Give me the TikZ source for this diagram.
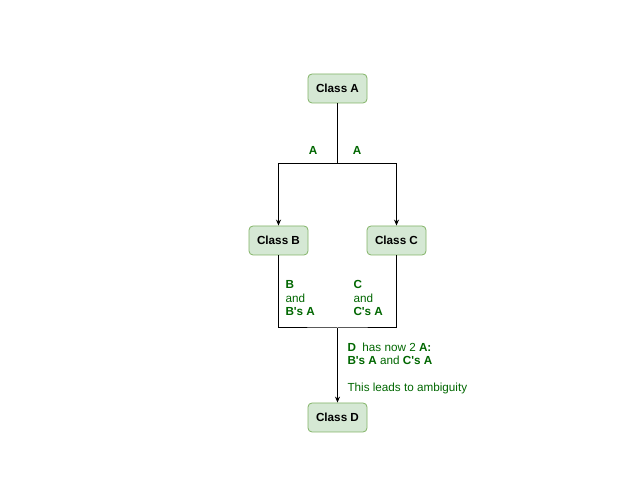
\documentclass[tikz,border=0pt]{standalone}
\usepackage{fontspec}
\setmainfont{Liberation Sans}[Ligatures=TeXOff]
\usetikzlibrary{arrows.meta}
\definecolor{boxfill}{HTML}{D5E8D4}
\definecolor{boxline}{HTML}{82B366}
\definecolor{txtgreen}{HTML}{006600}
\begin{document}
\begin{tikzpicture}[x=1pt, y=-1pt, >={Stealth[length=6pt,width=5pt]}, line width=1pt,
    cls/.style={draw=boxline, fill=boxfill, line width=0.8pt, rounded corners=4pt, minimum width=59pt, minimum height=29pt, inner sep=0pt, font=\fontsize{11.7}{13.5}\selectfont\bfseries},
    note/.style={text=txtgreen, align=left, inner sep=0pt, font=\fontsize{11.7}{13.5}\selectfont}]
    \useasboundingbox (0,0) rectangle (638,478);
    \node[cls] (clsA) at (337.5,88.5) {Class A};
    \node[cls] (clsB) at (278.5,240.5) {Class B};
    \node[cls] (clsC) at (396.5,240.5) {Class C};
    \node[cls] (clsD) at (337.5,417.5) {Class D};
    \coordinate (split) at (337.5,164);
    \coordinate (merge) at (337.5,328);
    \draw (clsA.south) -- (split);
    \draw[->] (split) -| (clsB.north);
    \draw[->] (split) -| (clsC.north);
    \draw (clsB.south) |- (merge) -| (clsC.south);
    \draw[->] (merge) -- (clsD.north);
    % multi-line notes: base is the last line
    \node[note, anchor=base] (lblAB) at (313,155) {\textbf{A}};
    \node[note, anchor=base] (lblAC) at (357,155) {\textbf{A}};
    \node[note, anchor=base west] (noteB) at (285,316) {\textbf{B}\\and\\\textbf{B's A}};
    \node[note, anchor=base west] (noteC) at (353,316) {\textbf{C}\\and\\\textbf{C's A}};
    \node[note, anchor=base west] (noteD) at (347,365) {\textbf{D}\ \ has now 2 \textbf{A:}\\\textbf{B's A} and \textbf{C's A}};
    \node[note, anchor=base west] (noteAmb) at (347,392) {This leads to ambiguity};
\end{tikzpicture}
\end{document}
